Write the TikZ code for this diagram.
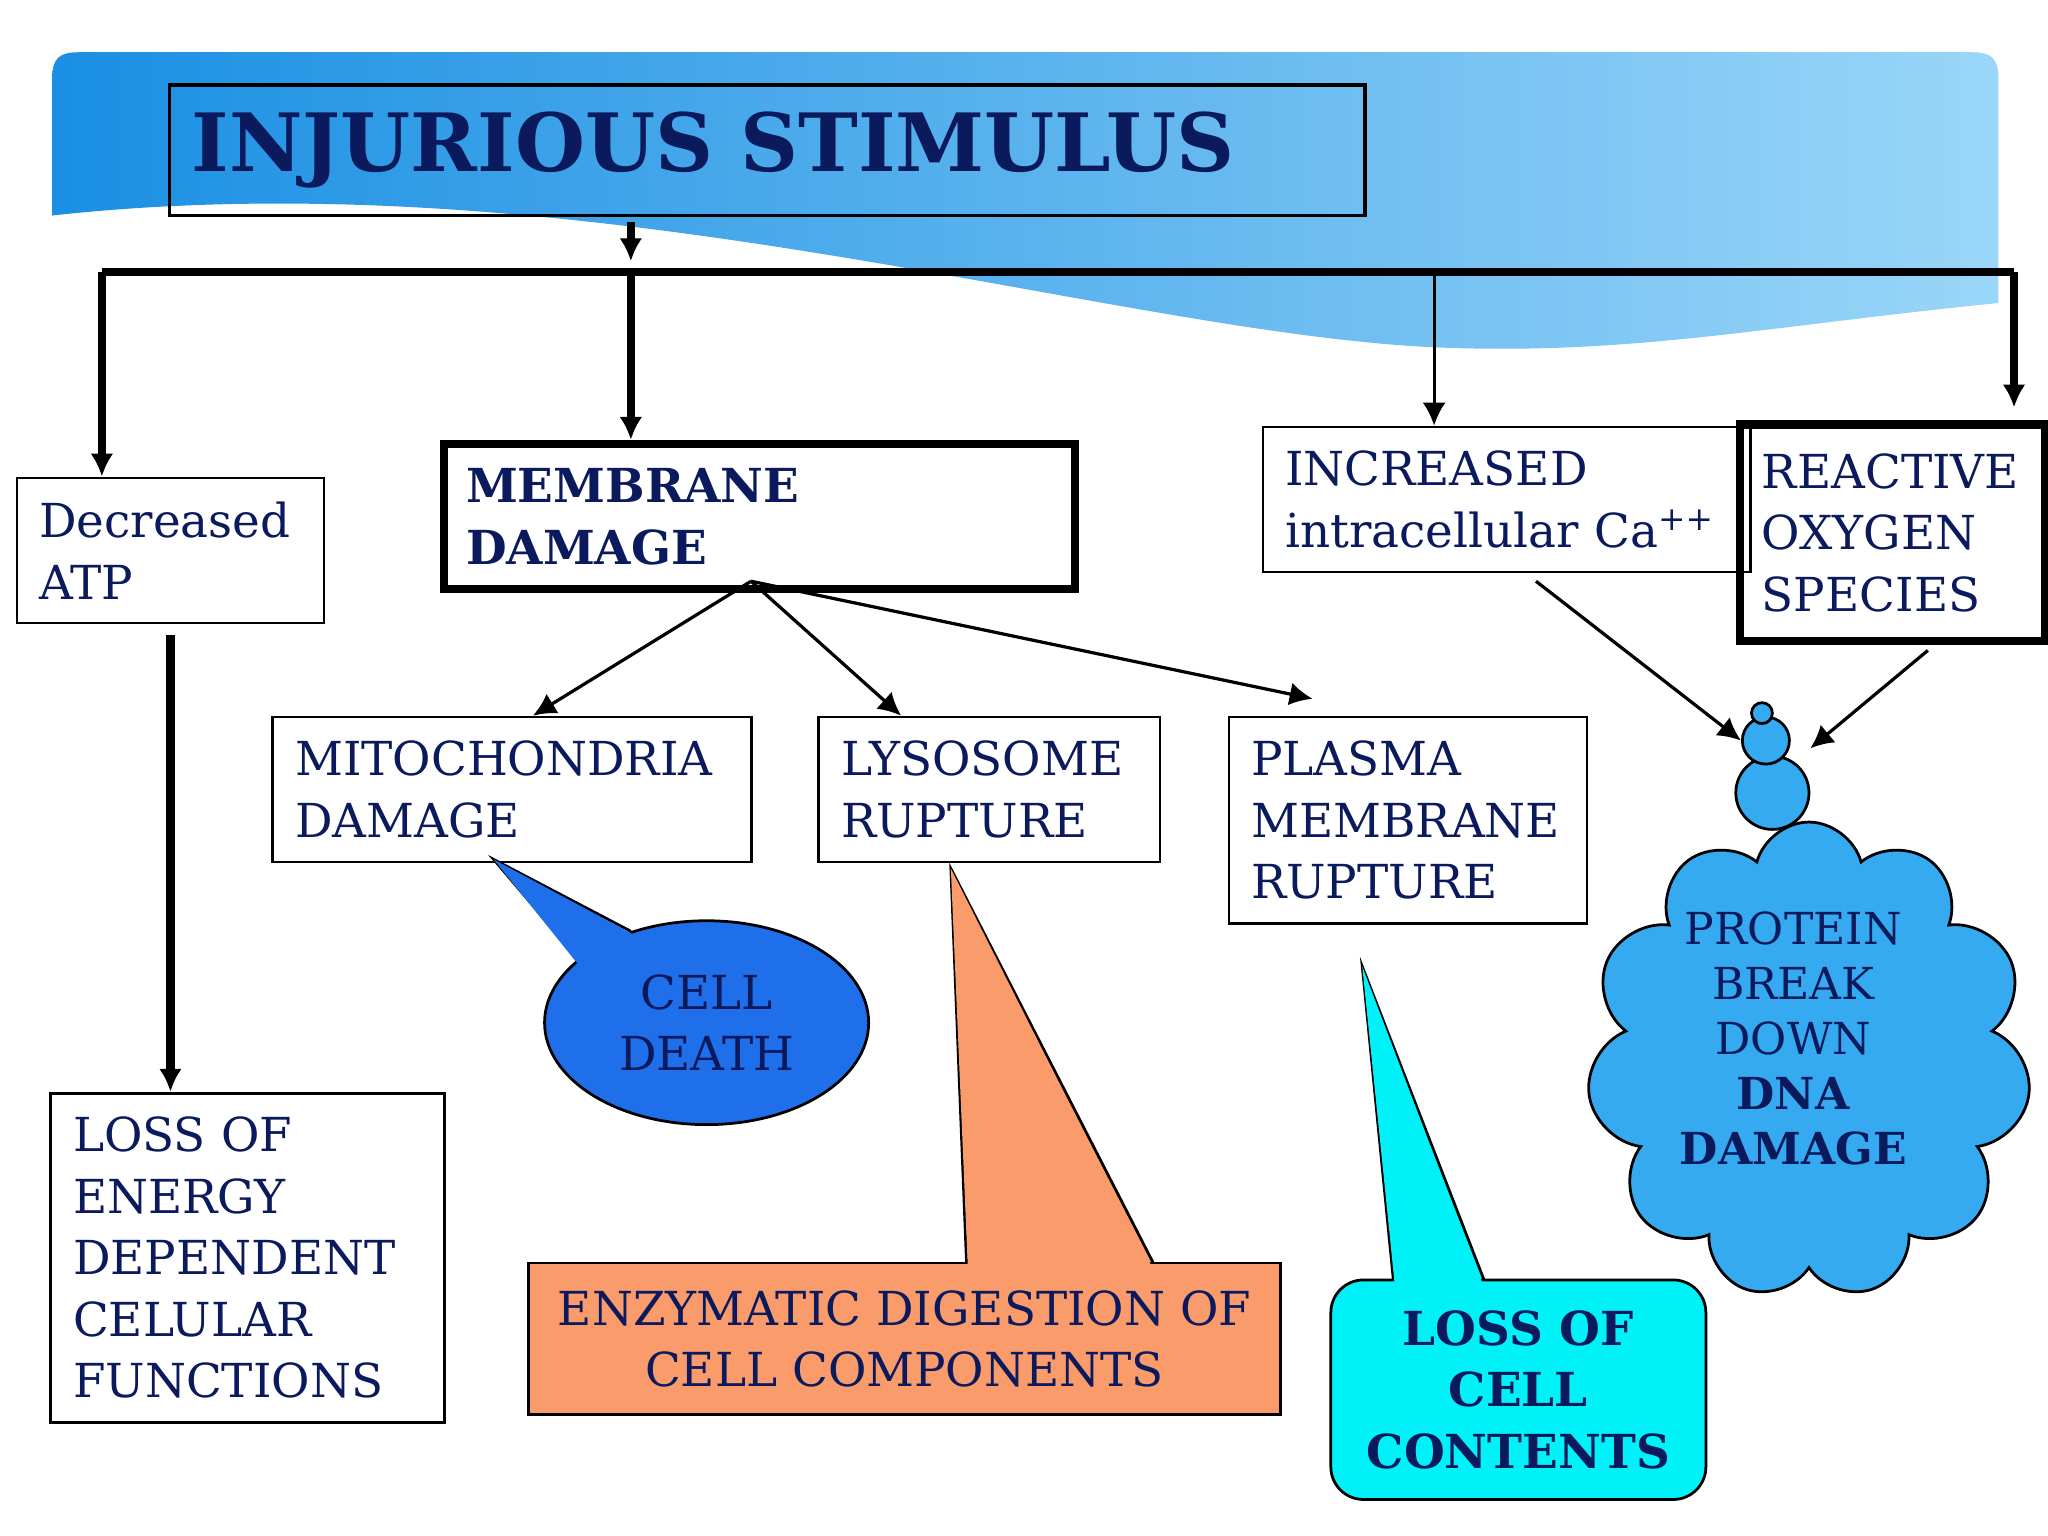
\documentclass[tikz,border=0pt]{standalone}
\usepackage{fontspec}
\setmainfont{DejaVu Serif}
\usetikzlibrary{arrows.meta,shapes.geometric,shapes.symbols}
\definecolor{navy}{HTML}{0B1A5C}
\definecolor{hdrA}{HTML}{1A8FE3}
\definecolor{hdrB}{HTML}{9AD6F8}
\definecolor{celldeath}{HTML}{1F6FEA}
\definecolor{enzyme}{HTML}{F99B6B}
\definecolor{contents}{HTML}{00F2F8}
\definecolor{cloudblue}{HTML}{36AAF0}
\tikzset{
  box/.style={draw, line width=0.6pt, inner xsep=0.17cm, inner ysep=0pt, align=left,
    text=navy, font=\fontsize{10.2}{13.4}\selectfont},
  heavy/.style={box, line width=1.8pt},
  thick arrow/.style={line width=1.8pt, -{Latex[length=5pt,width=5pt]}},
  thin arrow/.style={line width=0.7pt, -{Latex[length=5pt,width=5pt]}},
  callout/.style={draw, line width=0.6pt, text=navy, align=center,
    font=\fontsize{10.2}{13.4}\selectfont}
}
\begin{document}
\begin{tikzpicture}[x=0.01cm,y=-0.01cm]
  \useasboundingbox (0,0) rectangle (1568,1176);
  % header wave
  \shade[left color=hdrA, right color=hdrB]
    (40,165) -- (40,60) .. controls (40,45) and (45,40) .. (60,40) -- (1510,40)
    .. controls (1525,40) and (1530,45) .. (1530,60) -- (1530,232)
    .. controls (1350,250) and (1250,272) .. (1100,266)
    .. controls (850,255) and (450,120) .. (40,165) -- cycle;
  % title
  \node[box, line width=0.8pt, text width=8.81cm, minimum height=1.0cm,
    font=\bfseries\fontsize{17.5}{21}\selectfont] (stim) at (587.5,115) {INJURIOUS STIMULUS};
  % first level
  \node[box, text width=2.01cm, minimum height=1.11cm] (atp) at (130.5,421.5) {Decreased\\ATP};
  \node[heavy, text width=4.49cm, minimum height=1.11cm, font=\bfseries\fontsize{10.2}{13.4}\selectfont]
    (mem) at (581.5,395.5) {MEMBRANE\\DAMAGE};
  \node[box, text width=3.39cm, minimum height=1.11cm] (ca) at (1153.5,382.5)
    {INCREASED\\intracellular Ca\textsuperscript{++}};
  \node[heavy, text width=2.0cm, minimum height=1.66cm] (ros) at (1449,408) {REACTIVE\\OXYGEN\\SPECIES};
  % second level
  \node[box, text width=3.32cm, minimum height=1.11cm] (mito) at (392,604.5) {MITOCHONDRIA\\DAMAGE};
  \node[box, text width=2.27cm, minimum height=1.11cm] (lyso) at (757.5,604.5) {LYSOSOME\\RUPTURE};
  \node[box, text width=2.40cm, minimum height=1.58cm] (plasma) at (1078,628) {PLASMA\\MEMBRANE\\RUPTURE};
  \node[box, text width=2.67cm, minimum height=2.52cm] (energy) at (189.5,963)
    {LOSS OF\\ENERGY\\DEPENDENT\\CELULAR\\FUNCTIONS};
  % connectors
  \coordinate (bar) at (483,208);
  \coordinate (barL) at (78,208);
  \coordinate (barR) at (1542,208);
  \draw[thick arrow] (483,170) -- (483,200);
  \draw[line width=1.8pt] (barL) -- (barR);
  \draw[thick arrow] (barL) -- (atp.north west -| barL);
  \draw[thick arrow] (bar) -- (mem.north -| bar);
  \draw[thin arrow] (1098,208) -- (ca.north -| 1098,0);
  \draw[thick arrow] (barR) -- (1542,312);
  \draw[thick arrow] (atp.south) ++(0,8) -- (energy.north -| atp.south);
  \coordinate (split) at (575,445);
  \draw[thin arrow] (split) -- (408,548);
  \draw[thin arrow] (split) -- (690,548);
  \draw[thin arrow] (split) -- (1005,535);
  % cell death callout
  \coordinate (tipA) at (378,658);
  \node[callout, ellipse, fill=celldeath, minimum width=2.48cm, minimum height=1.56cm] (death)
    at (541,783) {CELL\\DEATH};
  \draw[line width=0.6pt] (483,713) -- (tipA) -- (445,737);
  \fill[celldeath] (486,716) -- (tipA) -- (448,745) -- cycle;
  % enzymatic callout
  \coordinate (tipB) at (728,665);
  \draw[line width=0.6pt, fill=enzyme] (740,967) -- (tipB) -- (883,967);
  \node[callout, fill=enzyme, minimum width=5.75cm, minimum height=1.16cm] (enz) at (692.5,1025)
    {ENZYMATIC DIGESTION OF\\CELL COMPONENTS};
  \fill[enzyme] (741,970) -- (tipB) -- (882,970) -- cycle;
  % loss of contents callout
  \coordinate (tipC) at (1043,740);
  \draw[line width=0.6pt, fill=contents] (1067,982) -- (tipC) -- (1137,982);
  \node[callout, fill=contents, rounded corners=0.25cm, minimum width=2.87cm, minimum height=1.68cm,
    font=\bfseries\fontsize{10.2}{13.4}\selectfont] (cont) at (1162.5,1064) {LOSS OF\\CELL\\CONTENTS};
  \fill[contents] (1068,985) -- (tipC) -- (1136,985) -- cycle;
  % thought cloud
  \node[callout, cloud, cloud puffs=11, aspect=0.95, fill=cloudblue, minimum width=3.4cm,
    minimum height=3.65cm] (dna) at (1385,812) {};
  \node[text=navy, align=center, font=\fontsize{9.6}{12}\selectfont] (dnatxt) at (1373,795)
    {PROTEIN\\BREAK\\DOWN\\\textbf{DNA}\\\textbf{DAMAGE}};
  \node[callout, circle, fill=cloudblue, minimum size=0.56cm, inner sep=0pt] (bub3) at (1357,607) {};
  \node[callout, circle, fill=cloudblue, minimum size=0.36cm, inner sep=0pt] (bub2) at (1352,567) {};
  \node[callout, circle, fill=cloudblue, minimum size=0.16cm, inner sep=0pt] (bub1) at (1349,546) {};
  \draw[thin arrow] (1176,445) -- (bub2.west);
  \draw[thin arrow] (1476,498) -- (1386,573);
\end{tikzpicture}
\end{document}
